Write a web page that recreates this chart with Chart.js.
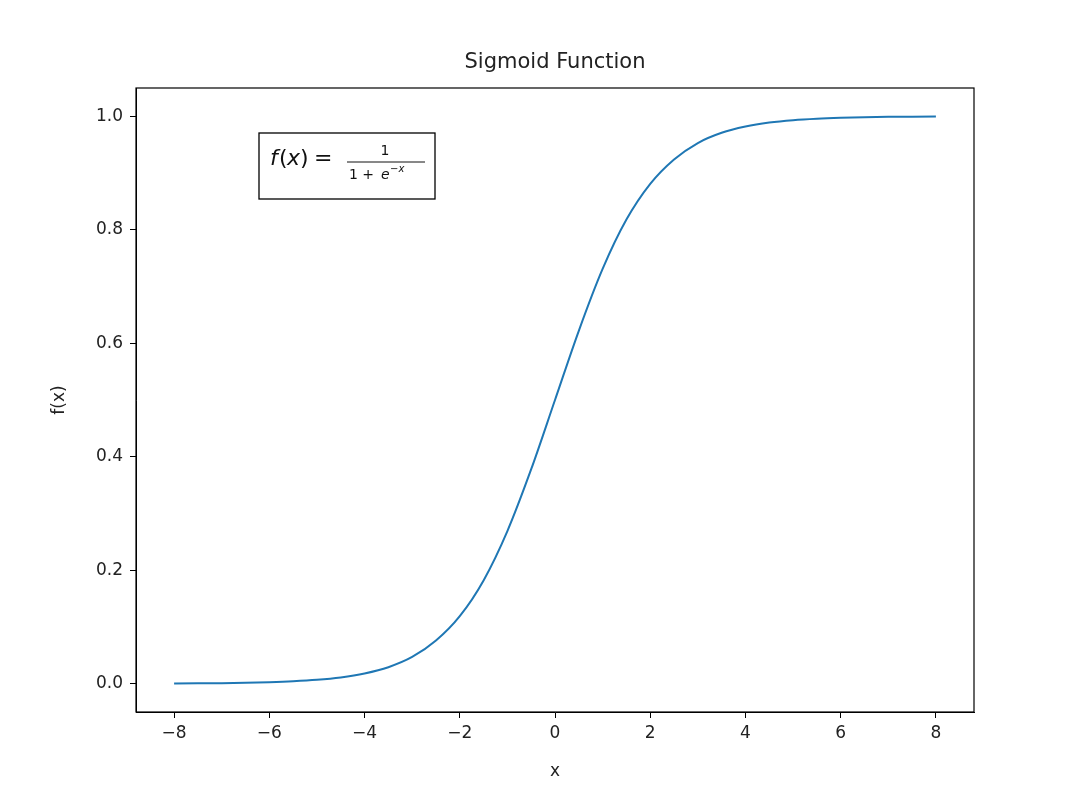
<!DOCTYPE html>
<html><head><meta charset="utf-8">
<script src="https://cdn.jsdelivr.net/npm/chart.js@4/dist/chart.umd.min.js"></script>
<style>html,body{margin:0;padding:0;background:#fff}#wrap{width:1080px;height:800px}</style>
</head><body><div id="wrap"><canvas id="c" width="1080" height="800"></canvas></div>
<script>
const xValues = [-8,-7.5,-7,-6.5,-6,-5.5,-5,-4.5,-4,-3.5,-3,-2.5,-2,-1.5,-1,-0.5,0,0.5,1,1.5,2,2.5,3,3.5,4,4.5,5,5.5,6,6.5,7,7.5,8];
const yValues = [0.0003,0.0006,0.0009,0.0015,0.0025,0.0041,0.0067,0.011,0.018,0.029,0.047,0.076,0.119,0.182,0.269,0.378,0.5,0.622,0.731,0.818,0.881,0.924,0.953,0.971,0.982,0.989,0.9933,0.9959,0.9975,0.9985,0.9991,0.9994,0.9997];
const xTicks = [-8,-6,-4,-2,0,2,4,6,8];
const yTicks = [0,0.2,0.4,0.6,0.8,1.0];
const titleText = 'Sigmoid Function';
const xLabel = 'x', yLabel = 'f(x)';
const FONT = '"DejaVu Sans", sans-serif';

const deco = {
  id:'deco',
  afterDraw(chart){
    const {ctx, chartArea:a} = chart;
    ctx.save();
    ctx.strokeStyle='#000'; ctx.lineWidth=1.2;
    ctx.strokeRect(a.left, a.top, a.right-a.left, a.bottom-a.top);
    ctx.fillStyle='#222'; ctx.textAlign='center'; ctx.textBaseline='middle';
    ctx.font='21px '+FONT; ctx.fillText(titleText,(a.left+a.right)/2,a.top-25);
    ctx.font='17px '+FONT; ctx.fillText(xLabel,(a.left+a.right)/2,a.bottom+60);
    ctx.save(); ctx.translate(a.left-76,(a.top+a.bottom)/2); ctx.rotate(-Math.PI/2); ctx.fillText(yLabel,0,0); ctx.restore();
    const bx=a.left+123, by=a.top+45, bw=176, bh=66;
    ctx.fillStyle='#fff'; ctx.fillRect(bx,by,bw,bh);
    ctx.strokeStyle='#000'; ctx.lineWidth=1.3; ctx.strokeRect(bx,by,bw,bh);
    ctx.fillStyle='#111'; ctx.textAlign='left';
    ctx.font='italic 22px '+FONT; ctx.fillText('f',bx+11,by+26);
    ctx.font='22px '+FONT; ctx.fillText('(',bx+20,by+26);
    ctx.font='italic 22px '+FONT; ctx.fillText('x',bx+28,by+26);
    ctx.font='22px '+FONT; ctx.fillText(')',bx+41,by+26); ctx.fillText('=',bx+55,by+26);
    ctx.font='14px '+FONT; ctx.textAlign='center'; ctx.fillText('1',bx+126,by+18);
    ctx.beginPath(); ctx.moveTo(bx+88,by+29); ctx.lineTo(bx+166,by+29); ctx.lineWidth=1; ctx.strokeStyle='#111'; ctx.stroke();
    ctx.textAlign='left'; ctx.font='14px '+FONT; ctx.fillText('1 + ',bx+90,by+42);
    ctx.font='italic 14px '+FONT; ctx.fillText('e',bx+122,by+42);
    ctx.font='italic 10px '+FONT; ctx.fillText('\u2212x',bx+131,by+36);
    ctx.restore();
  }
};
const fmt = v => { const s = (Math.abs(v)<1e-9?0:v); return String(s).replace('-','\u2212'); };

new Chart(document.getElementById('c'), {
  type:'line',
  data:{datasets:[{data:xValues.map((x,i)=>({x, y:yValues[i]})), borderColor:'#1f77b4', borderWidth:2, pointRadius:0, cubicInterpolationMode:'monotone', fill:false}]},
  options:{
    responsive:false, animation:false, devicePixelRatio:1,
    layout:{padding:{top:88,right:106,left:0,bottom:0}},
    plugins:{legend:{display:false}, tooltip:{enabled:false}},
    scales:{
      x:{type:'linear', min:-8.8, max:8.8,
         afterBuildTicks:s=>{s.ticks=xTicks.map(v=>({value:v}));},
         afterFit:s=>{s.height=88;},
         grid:{drawOnChartArea:false, drawTicks:true, tickLength:6, color:'#000'},
         border:{display:true,color:'#000'},
         ticks:{color:'#222', font:{family:FONT,size:17}, padding:5, maxRotation:0, callback:v=>fmt(v)}},
      y:{type:'linear', min:-0.05, max:1.05,
         afterBuildTicks:s=>{s.ticks=yTicks.map(v=>({value:v}));},
         afterFit:s=>{s.width=136;},
         grid:{drawOnChartArea:false, drawTicks:true, tickLength:6, color:'#000'},
         border:{display:true,color:'#000'},
         ticks:{color:'#222', font:{family:FONT,size:17}, padding:7, callback:v=>v.toFixed(1)}}
    }
  },
  plugins:[deco]
});
</script></body></html>
